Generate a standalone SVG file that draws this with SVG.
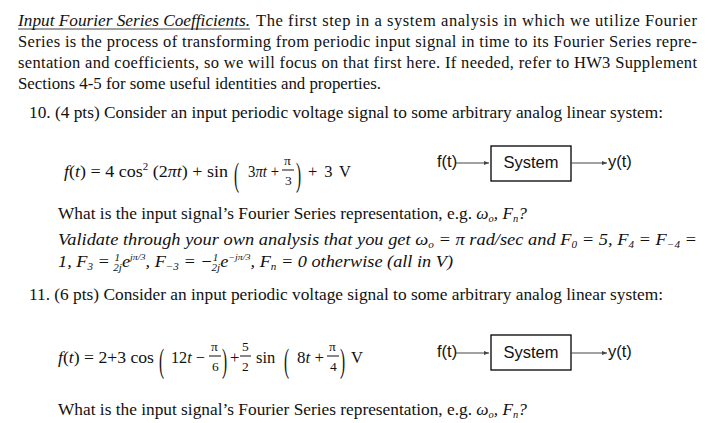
<svg xmlns="http://www.w3.org/2000/svg" width="715" height="423" viewBox="0 0 715 423">
<style>
text{font-family:"Liberation Serif","DejaVu Serif",serif;font-size:16.5px;fill:#111}
.i{font-style:italic}
.s{font-family:"Liberation Sans",Arial,sans-serif}
.f{font-size:13.5px}
.p{font-size:34px}
.box{fill:#fff;stroke:#000;stroke-width:1.3}
.ln{stroke:#444;stroke-width:1;fill:none}
</style>
<defs><marker id="a" markerWidth="6" markerHeight="6" refX="5" refY="3" orient="auto"><path d="M0,1 L5,3 L0,5z" fill="#444"/></marker></defs>
<rect width="715" height="423" fill="#fff"/>
<text x="18" y="26" class="i" textLength="232" lengthAdjust="spacingAndGlyphs">Input Fourier Series Coefficients.</text>
<line x1="18" y1="29" x2="250" y2="29" stroke="#111" stroke-width="0.8"/>
<text x="256" y="26" textLength="441" lengthAdjust="spacing">The first step in a system analysis in which we utilize Fourier</text>
<text x="18" y="47" textLength="679" lengthAdjust="spacing">Series is the process of transforming from periodic input signal in time to its Fourier Series repre-</text>
<text x="18" y="68" textLength="679" lengthAdjust="spacing">sentation and coefficients, so we will focus on that first here. If needed, refer to HW3 Supplement</text>
<text x="18" y="89" textLength="363" lengthAdjust="spacingAndGlyphs">Sections 4-5 for some useful identities and properties.</text>
<text x="29" y="118" textLength="634" lengthAdjust="spacingAndGlyphs">10. (4 pts) Consider an input periodic voltage signal to some arbitrary analog linear system:</text>
<text x="64" y="177" textLength="164" lengthAdjust="spacingAndGlyphs"><tspan class="i">f</tspan>(<tspan class="i">t</tspan>) = 4 cos<tspan font-size="10" dy="-7">2</tspan><tspan dy="7"> (2</tspan><tspan class="i">πt</tspan>) + sin</text>
<text class="p" transform="translate(234,186) scale(0.45,1)">(</text>
<text x="248" y="177" textLength="31" lengthAdjust="spacingAndGlyphs">3<tspan class="i">πt</tspan> +</text>
<text x="284" y="165" class="f">π</text>
<line x1="282" y1="170" x2="294" y2="170" stroke="#111"/>
<text x="285" y="185" class="f">3</text>
<text class="p" transform="translate(296,186) scale(0.45,1)">)</text>
<text x="308" y="177" textLength="43" lengthAdjust="spacing">+ 3 V</text>
<g id="sys1">
<text class="s" x="437" y="167" font-size="11">f(t)</text>
<line class="ln" x1="456" y1="163" x2="489" y2="163" marker-end="url(#a)"/>
<rect class="box" x="491" y="146" width="80" height="35"/>
<text class="s" x="531" y="168" font-size="14" text-anchor="middle">System</text>
<line class="ln" x1="571" y1="163" x2="607" y2="163" marker-end="url(#a)"/>
<text class="s" x="608" y="167" font-size="11">y(t)</text>
</g>
<text x="58" y="219" textLength="469" lengthAdjust="spacingAndGlyphs">What is the input signal’s Fourier Series representation, e.g. <tspan class="i">ω<tspan font-size="10" dy="3">o</tspan><tspan dy="-3">, F</tspan><tspan font-size="10" dy="3">n</tspan><tspan dy="-3">?</tspan></tspan></text>
<text x="58" y="245" class="i" textLength="639" lengthAdjust="spacingAndGlyphs">Validate through your own analysis that you get ω<tspan font-size="10" dy="3">o</tspan><tspan dy="-3"> = π rad/sec and F</tspan><tspan font-size="10" dy="3">0</tspan><tspan dy="-3"> = 5, F</tspan><tspan font-size="10" dy="3">4</tspan><tspan dy="-3"> = F</tspan><tspan font-size="10" dy="3">−4</tspan><tspan dy="-3"> =</tspan></text>
<text x="58" y="267" class="i" textLength="395" lengthAdjust="spacingAndGlyphs">1, F<tspan font-size="10" dy="3">3</tspan><tspan dy="-3"> = </tspan><tspan font-size="10" dy="-6">1</tspan><tspan font-size="10" dx="-6" dy="10">2j</tspan><tspan dy="-4">e</tspan><tspan font-size="9" dy="-7">jπ/3</tspan><tspan dy="7">, F</tspan><tspan font-size="10" dy="3">−3</tspan><tspan dy="-3"> = −</tspan><tspan font-size="10" dy="-6">1</tspan><tspan font-size="10" dx="-6" dy="10">2j</tspan><tspan dy="-4">e</tspan><tspan font-size="9" dy="-7">−jπ/3</tspan><tspan dy="7">, F</tspan><tspan font-size="10" dy="3">n</tspan><tspan dy="-3"> = 0   otherwise (all in V)</tspan></text>
<text x="29" y="300" textLength="634" lengthAdjust="spacingAndGlyphs">11. (6 pts) Consider an input periodic voltage signal to some arbitrary analog linear system:</text>
<text x="58" y="363" textLength="96" lengthAdjust="spacingAndGlyphs"><tspan class="i">f</tspan>(<tspan class="i">t</tspan>) = 2+3 cos</text>
<text class="p" transform="translate(159,372) scale(0.45,1)">(</text>
<text x="171" y="363" textLength="34" lengthAdjust="spacingAndGlyphs">12<tspan class="i">t</tspan> −</text>
<text x="211" y="351" class="f">π</text>
<line x1="209" y1="356" x2="221" y2="356" stroke="#111"/>
<text x="212" y="371" class="f">6</text>
<text class="p" transform="translate(222,372) scale(0.45,1)">)</text>
<text x="230" y="363">+</text>
<text x="242" y="351" class="f">5</text>
<line x1="240" y1="356" x2="251" y2="356" stroke="#111"/>
<text x="242" y="371" class="f">2</text>
<text x="256" y="363">sin</text>
<text class="p" transform="translate(284,372) scale(0.45,1)">(</text>
<text x="297" y="363" textLength="27" lengthAdjust="spacingAndGlyphs">8<tspan class="i">t</tspan> +</text>
<text x="329" y="351" class="f">π</text>
<line x1="327" y1="356" x2="339" y2="356" stroke="#111"/>
<text x="330" y="371" class="f">4</text>
<text class="p" transform="translate(340,372) scale(0.45,1)">)</text>
<text x="351" y="363">V</text>
<g id="sys2">
<text class="s" x="437" y="357" font-size="11">f(t)</text>
<line class="ln" x1="456" y1="353" x2="489" y2="353" marker-end="url(#a)"/>
<rect class="box" x="491" y="335" width="80" height="35"/>
<text class="s" x="531" y="358" font-size="14" text-anchor="middle">System</text>
<line class="ln" x1="571" y1="353" x2="607" y2="353" marker-end="url(#a)"/>
<text class="s" x="608" y="357" font-size="11">y(t)</text>
</g>
<text x="58" y="415" textLength="469" lengthAdjust="spacingAndGlyphs">What is the input signal’s Fourier Series representation, e.g. <tspan class="i">ω<tspan font-size="10" dy="3">o</tspan><tspan dy="-3">, F</tspan><tspan font-size="10" dy="3">n</tspan><tspan dy="-3">?</tspan></tspan></text>
</svg>
